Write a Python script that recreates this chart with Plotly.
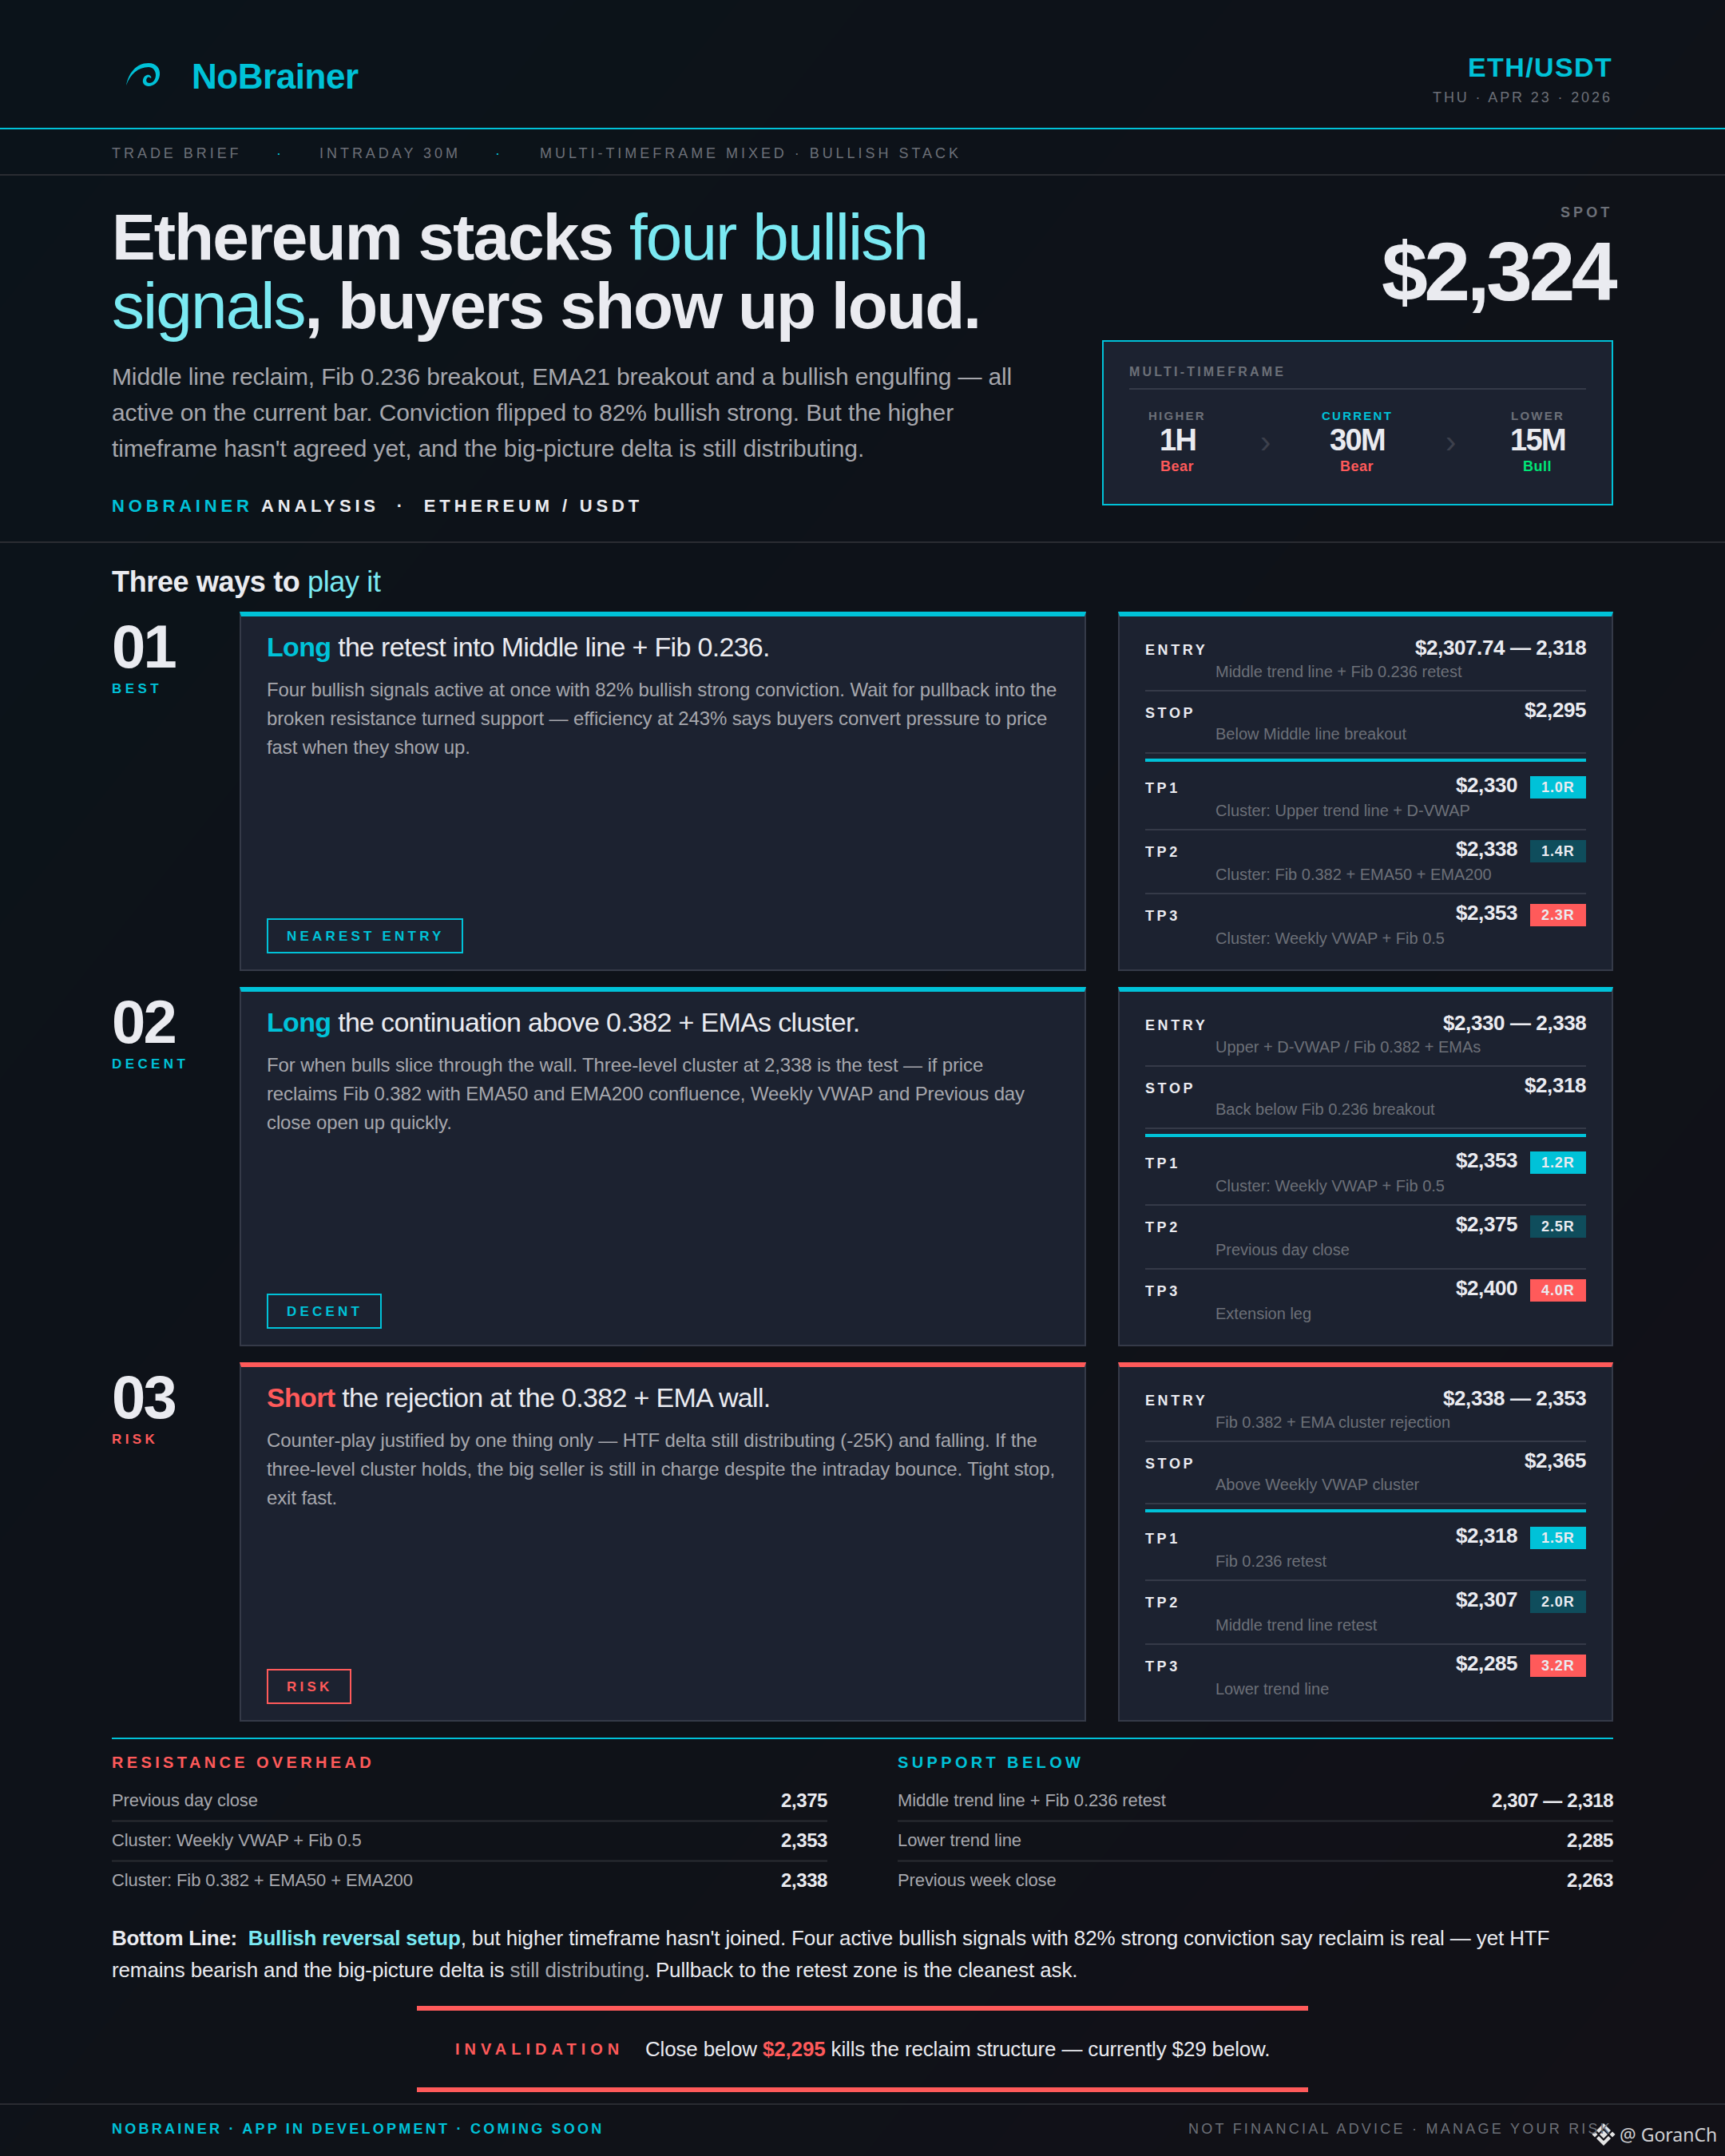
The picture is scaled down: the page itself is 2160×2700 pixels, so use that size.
import plotly.graph_objects as go

# palette
CYAN = "#00c2d8"
LIGHT = "#7ae9f2"
RED = "#ff5a5a"
GREEN = "#00e676"
WHITE = "#eaebf0"
CARD = "#1c2230"
EDGE = "#353a48"
GREY = "#6c7078"
SOFT = "#a6a7ad"
FONT = "Liberation Sans"

# header text
TAG_ROW = ["TRADE BRIEF", "INTRADAY 30M", "MULTI-TIMEFRAME MIXED · BULLISH STACK"]
PARAGRAPH = [
    "Middle line reclaim, Fib 0.236 breakout, EMA21 breakout and a bullish engulfing — all",
    "active on the current bar. Conviction flipped to 82% bullish strong. But the higher",
    "timeframe hasn't agreed yet, and the big-picture delta is still distributing.",
]

# timeframe box
TF_LABELS = ["HIGHER", "CURRENT", "LOWER"]
TF_NAMES = ["1H", "30M", "15M"]
TF_BIAS = ["Bear", "Bear", "Bull"]

# trade cards
CARD_NUMS = ["01", "02", "03"]
CARD_RANKS = ["BEST", "DECENT", "RISK"]
CARD_LEADS = ["Long", "Long", "Short"]
CARD_TITLES = [
    " the retest into Middle line + Fib 0.236.",
    " the continuation above 0.382 + EMAs cluster.",
    " the rejection at the 0.382 + EMA wall.",
]
CARD_BODIES = [
    ["Four bullish signals active at once with 82% bullish strong conviction. Wait for pullback into the",
     "broken resistance turned support — efficiency at 243% says buyers convert pressure to price",
     "fast when they show up."],
    ["For when bulls slice through the wall. Three-level cluster at 2,338 is the test — if price",
     "reclaims Fib 0.382 with EMA50 and EMA200 confluence, Weekly VWAP and Previous day",
     "close open up quickly."],
    ["Counter-play justified by one thing only — HTF delta still distributing (-25K) and falling. If the",
     "three-level cluster holds, the big seller is still in charge despite the intraday bounce. Tight stop,",
     "exit fast."],
]
CARD_TAGS = ["NEAREST ENTRY", "DECENT", "RISK"]
CARD_TAG_WIDTHS = [246, 144, 106]

ENTRY_VALUES = ["$2,307.74 — 2,318", "$2,330 — 2,338", "$2,338 — 2,353"]
ENTRY_NOTES = ["Middle trend line + Fib 0.236 retest", "Upper + D-VWAP / Fib 0.382 + EMAs", "Fib 0.382 + EMA cluster rejection"]
STOP_VALUES = ["$2,295", "$2,318", "$2,365"]
STOP_NOTES = ["Below Middle line breakout", "Back below Fib 0.236 breakout", "Above Weekly VWAP cluster"]
TP_VALUES = [["$2,330", "$2,338", "$2,353"], ["$2,353", "$2,375", "$2,400"], ["$2,318", "$2,307", "$2,285"]]
TP_R = [["1.0R", "1.4R", "2.3R"], ["1.2R", "2.5R", "4.0R"], ["1.5R", "2.0R", "3.2R"]]
TP_NOTES = [
    ["Cluster: Upper trend line + D-VWAP", "Cluster: Fib 0.382 + EMA50 + EMA200", "Cluster: Weekly VWAP + Fib 0.5"],
    ["Cluster: Weekly VWAP + Fib 0.5", "Previous day close", "Extension leg"],
    ["Fib 0.236 retest", "Middle trend line retest", "Lower trend line"],
]
BADGE_COLORS = [CYAN, "#0f4d5c", RED]

# levels
RES_NAMES = ["Previous day close", "Cluster: Weekly VWAP + Fib 0.5", "Cluster: Fib 0.382 + EMA50 + EMA200"]
RES_VALUES = ["2,375", "2,353", "2,338"]
SUP_NAMES = ["Middle trend line + Fib 0.236 retest", "Lower trend line", "Previous week close"]
SUP_VALUES = ["2,307 — 2,318", "2,285", "2,263"]

annotations = []
shapes = []


def seg(text, color=None, bold=None, sp=None):
    style = []
    if color:
        style.append(f"color:{color}")
    if bold is not None:
        style.append(f"font-weight:{'700' if bold else '400'}")
    if sp is not None:
        style.append(f"letter-spacing:{sp}px")
    return f'<span style="{";".join(style)}">{text}</span>'


def txt(x, y, text, size, color=WHITE, anchor="left", bold=False, sp=0, family=FONT):
    annotations.append(dict(
        x=x, y=y, xref="x", yref="y", showarrow=False, xanchor=anchor, yanchor="middle",
        borderpad=0, borderwidth=0, align=anchor,
        text=seg(text, color, bold, sp),
        font=dict(family=family, size=size, color=color),
    ))


def rich(x, y, parts, size, anchor="left", family=FONT):
    annotations.append(dict(
        x=x, y=y, xref="x", yref="y", showarrow=False, xanchor=anchor, yanchor="middle",
        borderpad=0, borderwidth=0, align=anchor,
        text="".join(parts),
        font=dict(family=family, size=size, color=WHITE),
    ))


def rect(x0, y0, x1, y1, fill, line=None, lw=0):
    shapes.append(dict(type="rect", xref="x", yref="y", x0=x0, y0=y0, x1=x1, y1=y1,
                       fillcolor=fill, line=dict(color=line or fill, width=lw)))


def hline(y, x0=0, x1=2160, color="#2a2c32", lw=2):
    rect(x0, y - lw / 2, x1, y + lw / 2, color)


def path(d, fill):
    shapes.append(dict(type="path", xref="x", yref="y", path=d, fillcolor=fill, line=dict(width=0)))


def panel(x0, x1, y, color):
    rect(x0 + 1, y + 1, x1 - 1, y + 449, CARD, EDGE, 2)
    path(f"M{x0},{y} L{x1},{y} L{x1 - 2},{y + 6} L{x0 + 2},{y + 6} Z", color)


# header
path("M158,107 C161,92 170,79 186,79 C196,79 201,86 200,94 C199,103 192,108 186,108 "
     "C181,108 178,104 179,100 C180,95 184,93 187,94 C189,95 190,97 189,98 C187,96 185,96 184,98 "
     "C182,101 184,104 187,104 C192,104 195,99 195,94 C195,88 191,84 186,84 C173,84 163,93 158,107 Z", CYAN)
txt(240, 95, "NoBrainer", 44, CYAN, bold=True, sp=-0.44)
txt(2019, 84, "ETH/USDT", 34, CYAN, "right", True, 1.4)
txt(2019, 122, "THU · APR 23 · 2026", 18, GREY, "right", False, 2.88)
hline(161, color=CYAN)
for x, s in zip([140, 400, 676], TAG_ROW):
    txt(x, 192, s, 18, GREY, sp=3.96)
for x in [349, 623]:
    txt(x, 192, "·", 18, CYAN, "center")
hline(219)

# hero
rich(140, 296.5, [seg("Ethereum stacks ", WHITE, True, -1.95), seg("four bullish", LIGHT, False, -1.95)], 82)
rich(140, 382.5, [seg("signals", LIGHT, False, -1.95), seg(", buyers show up loud.", WHITE, True, -1.95)], 82)
for y, s in zip([471, 516, 561], PARAGRAPH):
    txt(140, y, s, 30, SOFT, sp=-0.14)
rich(140, 633, [seg("NOBRAINER", CYAN, True, 4.84), seg(" ANALYSIS  ·  ETHEREUM / USDT", WHITE, True, 4.84)], 22)
txt(2019, 266, "SPOT", 18, GREY, "right", True, 4.1)
txt(2026, 340, "$2,324", 104, WHITE, "right", True, -4.5)

rect(1381, 427, 2019, 632, CARD, CYAN, 2)
txt(1414, 465, "MULTI-TIMEFRAME", 16, GREY, bold=True, sp=3.2)
hline(487, 1414, 1986, EDGE)
for x, lab, name, bias in zip([1474, 1699, 1925], TF_LABELS, TF_NAMES, TF_BIAS):
    txt(x, 520.5, lab, 15, CYAN if lab == "CURRENT" else GREY, "center", True, 2.25)
    txt(x, 551, name, 38, WHITE, "center", True, -1.6)
    txt(x, 584, bias, 18, GREEN if bias == "Bull" else RED, "center", True, 0.5)
for x in [1584, 1816]:
    txt(x, 553, "›", 40, "#3c404c", "center")
hline(679)

# trades
rich(140, 728, [seg("Three ways to ", WHITE, True, -0.36), seg("play it", LIGHT, False, -0.36)], 36)
for i in range(3):
    top = 766 + 470 * i
    accent = RED if i == 2 else CYAN
    txt(140, top + 43, CARD_NUMS[i], 76, WHITE, bold=True, sp=-2.8)
    txt(140, top + 96, CARD_RANKS[i], 17, accent, bold=True, sp=4.4)

    panel(300, 1360, top, accent)
    rich(334, top + 44, [seg(CARD_LEADS[i], accent, True, -0.68), seg(CARD_TITLES[i], WHITE, False, -0.68)], 34)
    for k, line in enumerate(CARD_BODIES[i]):
        txt(334, top + 97 + 36 * k, line, 24, SOFT, sp=-0.12)
    rect(335, top + 385, 334 + CARD_TAG_WIDTHS[i] - 1, top + 427, "rgba(0,0,0,0)", accent, 2)
    txt(334 + CARD_TAG_WIDTHS[i] / 2 + 0.5, top + 406, CARD_TAGS[i], 17, accent, "center", True, 4.2)

    panel(1400, 2020, top, accent)
    txt(1434, top + 47.5, "ENTRY", 18, WHITE, bold=True, sp=3.6)
    txt(1986, top + 45, ENTRY_VALUES[i], 26, WHITE, "right", True, -0.4)
    txt(1522, top + 75, ENTRY_NOTES[i], 20, GREY)
    hline(top + 99, 1434, 1986, EDGE)
    txt(1434, top + 126.5, "STOP", 18, WHITE, bold=True, sp=3.6)
    txt(1986, top + 123, STOP_VALUES[i], 26, WHITE, "right", True, -0.4)
    txt(1522, top + 153, STOP_NOTES[i], 20, GREY)
    hline(top + 177, 1434, 1986, EDGE)
    rect(1434, top + 184, 1986, top + 188, CYAN)
    for k in range(3):
        ty = top + 80 * k
        txt(1434, ty + 220.5, f"TP{k + 1}", 18, WHITE, bold=True, sp=3.6)
        txt(1900, ty + 217, TP_VALUES[i][k], 26, WHITE, "right", True, -0.4)
        rect(1916, ty + 206, 1986, ty + 234, BADGE_COLORS[k])
        txt(1951, ty + 220, TP_R[i][k], 18, WHITE, "center", True, 0.9)
        txt(1522, ty + 249, TP_NOTES[i][k], 20, GREY)
        if k < 2:
            hline(ty + 273, 1434, 1986, EDGE)

# levels
hline(2177, 140, 2020, CYAN)
txt(140, 2207, "RESISTANCE OVERHEAD", 20, RED, bold=True, sp=4.36)
txt(1124, 2207, "SUPPORT BELOW", 20, CYAN, bold=True, sp=4.36)
for x0, x1, names, values in [(140, 1036, RES_NAMES, RES_VALUES), (1124, 2020, SUP_NAMES, SUP_VALUES)]:
    for k in range(3):
        y = 2254.5 + 50 * k
        txt(x0, y, names[k], 22, SOFT, sp=-0.1)
        txt(x1, y, values[k], 24, WHITE, "right", True, -0.4)
        if k < 2:
            hline(y + 26, x0, x1)

rich(140, 2427, [
    seg("Bottom Line:  ", WHITE, True, -0.28),
    seg("Bullish reversal setup", LIGHT, True, -0.2),
    seg(", but higher timeframe hasn't joined. Four active bullish signals with 82% strong conviction say reclaim is real — yet HTF", WHITE, False, -0.14),
], 26)
rich(140, 2467, [
    seg("remains bearish and the big-picture delta is ", WHITE, False, -0.13),
    seg("still distributing", SOFT, False, -0.13),
    seg(". Pullback to the retest zone is the cleanest ask.", WHITE, False, -0.13),
], 26)

rect(522, 2512, 1638, 2518, RED)
rect(522, 2614, 1638, 2620, RED)
txt(570, 2566, "INVALIDATION", 20, RED, bold=True, sp=6)
rich(808, 2566, [
    seg("Close below ", WHITE, False, -0.16),
    seg("$2,295", RED, True, -0.16),
    seg(" kills the reclaim structure — currently $29 below.", WHITE, False, -0.16),
], 26)

# footer
hline(2635)
txt(140, 2666, "NOBRAINER · APP IN DEVELOPMENT · COMING SOON", 18, CYAN, bold=True, sp=3.24)
txt(2019, 2666, "NOT FINANCIAL ADVICE · MANAGE YOUR RISK", 18, GREY, "right", False, 3.24)

# watermark
cx, cy, mark = 2008, 2673, "#e4e4e4"
for dx, r in [(0, 5), (-11, 3.5), (11, 3.5)]:
    path(f"M{cx + dx - r},{cy} L{cx + dx},{cy - r} L{cx + dx + r},{cy} L{cx + dx},{cy + r} Z", mark)
for s in [-1, 1]:
    path(f"M{cx},{cy + s * 14} L{cx + 9},{cy + s * 5} L{cx + 6},{cy + s * 2} L{cx},{cy + s * 8} "
         f"L{cx - 6},{cy + s * 2} L{cx - 9},{cy + s * 5} Z", mark)
txt(2028, 2673, "@ GoranCh", 23, "#cfcfd2", family="Noto Sans")

fig = go.Figure(go.Heatmap(
    x=[0, 2160], y=[0, 2700], z=[[0, 0.5], [0.5, 1]], zsmooth="best", showscale=False, hoverinfo="skip",
    colorscale=[[0, "#0b131a"], [1, "#121117"]],
))
fig.update_layout(
    width=2160, height=2700, margin=dict(l=0, r=0, t=0, b=0),
    paper_bgcolor="#0d1016", plot_bgcolor="#0d1016",
    xaxis=dict(range=[0, 2160], visible=False, fixedrange=True),
    yaxis=dict(range=[2700, 0], visible=False, fixedrange=True),
    shapes=shapes, annotations=annotations, showlegend=False,
)
fig.write_html("out.html", config=dict(displayModeBar=False),
               post_script="document.body.style.margin='0';document.body.style.background='#0d1016';")
